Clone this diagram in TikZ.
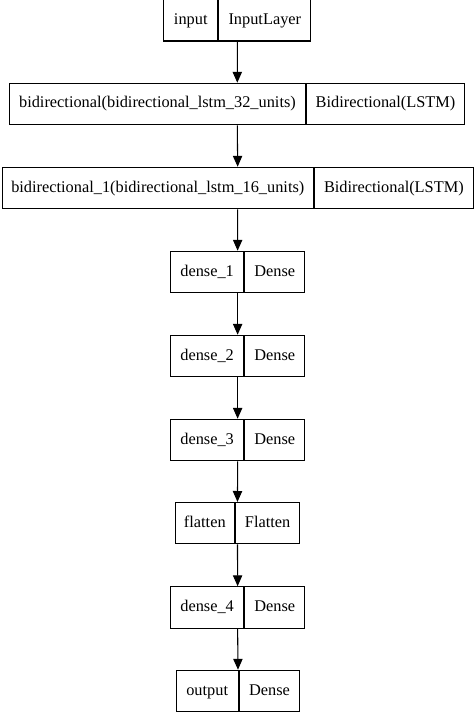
\documentclass[tikz,border=0pt]{standalone}
\usepackage{fontspec}
\setmainfont{Liberation Serif}
\usetikzlibrary{arrows.meta, calc}

\begin{document}
\begin{tikzpicture}[x=0.75pt, y=-0.75pt,
    cell/.style={draw, line width=0.8pt, minimum height=31.1pt, inner sep=0pt,
      text height=8.6pt, text depth=2.6pt,
      font=\fontsize{12.25}{14}\selectfont},
    arr/.style={line width=0.8pt, -{Triangle[length=8.2pt, width=7pt]}}]
  \useasboundingbox (0,0) rectangle (474,713);
  % layers
  \node[cell, minimum width=40.5pt, anchor=east] (inputname) at (218.3,20.3) {input};
  \node[cell, minimum width=69pt, anchor=west] (inputtype) at (inputname.east) {InputLayer};
  \node[cell, minimum width=221.55pt, anchor=east] (bidirname) at (305.7,104) {bidirectional(bidirectional\_lstm\_32\_units)};
  \node[cell, minimum width=118.95pt, anchor=west] (bidirtype) at (bidirname.east) {Bidirectional(LSTM)};
  \node[cell, minimum width=233.5pt, anchor=east] (bidironename) at (314,188) {bidirectional\_1(bidirectional\_lstm\_16\_units)};
  \node[cell, minimum width=119pt, anchor=west] (bidironetype) at (bidironename.east) {Bidirectional(LSTM)};
  \node[cell, minimum width=55pt, anchor=east] (denseonename) at (244.3,272) {dense\_1};
  \node[cell, minimum width=45pt, anchor=west] (denseonetype) at (denseonename.east) {Dense};
  \node[cell, minimum width=55pt, anchor=east] (densetwoname) at (244.3,356) {dense\_2};
  \node[cell, minimum width=45pt, anchor=west] (densetwotype) at (densetwoname.east) {Dense};
  \node[cell, minimum width=55pt, anchor=east] (densethreename) at (244.3,440) {dense\_3};
  \node[cell, minimum width=45pt, anchor=west] (densethreetype) at (densethreename.east) {Dense};
  \node[cell, minimum width=44.5pt, anchor=east] (flattenname) at (235,523.2) {flatten};
  \node[cell, minimum width=48.2pt, anchor=west] (flattentype) at (flattenname.east) {Flatten};
  \node[cell, minimum width=55pt, anchor=east] (densefourname) at (244.3,607.5) {dense\_4};
  \node[cell, minimum width=45pt, anchor=west] (densefourtype) at (densefourname.east) {Dense};
  \node[cell, minimum width=46.5pt, anchor=east] (outputname) at (238.7,691) {output};
  \node[cell, minimum width=45.45pt, anchor=west] (outputtype) at (outputname.east) {Dense};
  % connections
  \draw[arr] ($(inputname.south west)!.5!(inputtype.south east)$) -- ($(bidirname.north west)!.5!(bidirtype.north east)$);
  \draw[arr] ($(bidirname.south west)!.5!(bidirtype.south east)$) -- ($(bidironename.north west)!.5!(bidironetype.north east)$);
  \draw[arr] ($(bidironename.south west)!.5!(bidironetype.south east)$) -- ($(denseonename.north west)!.5!(denseonetype.north east)$);
  \draw[arr] ($(denseonename.south west)!.5!(denseonetype.south east)$) -- ($(densetwoname.north west)!.5!(densetwotype.north east)$);
  \draw[arr] ($(densetwoname.south west)!.5!(densetwotype.south east)$) -- ($(densethreename.north west)!.5!(densethreetype.north east)$);
  \draw[arr] ($(densethreename.south west)!.5!(densethreetype.south east)$) -- ($(flattenname.north west)!.5!(flattentype.north east)$);
  \draw[arr] ($(flattenname.south west)!.5!(flattentype.south east)$) -- ($(densefourname.north west)!.5!(densefourtype.north east)$);
  \draw[arr] ($(densefourname.south west)!.5!(densefourtype.south east)$) -- ($(outputname.north west)!.5!(outputtype.north east)$);
\end{tikzpicture}
\end{document}
